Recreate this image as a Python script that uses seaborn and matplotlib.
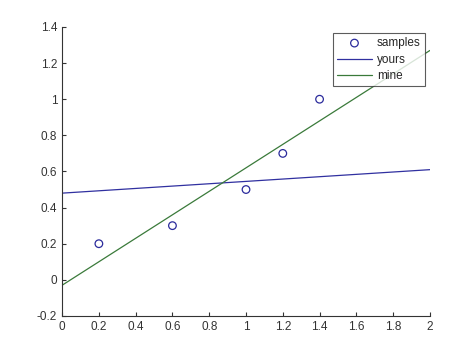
import numpy as np
import pandas as pd
import matplotlib
matplotlib.use('Agg')
import matplotlib.pyplot as plt
import seaborn as sns

sns.set_style("ticks")
plt.rcParams['font.family'] = ['Liberation Sans', 'DejaVu Sans']

# samples
sample_x = [0.2, 0.6, 1.0, 1.2, 1.4]
sample_y = [0.2, 0.3, 0.5, 0.7, 1.0]

# fitted lines (endpoints)
line_x = [0, 2]
yours_y = [0.48, 0.61]
mine_y = [-0.03, 1.27]

samples = pd.DataFrame({'x': sample_x, 'y': sample_y})
lines = pd.DataFrame({'x': line_x * 2,
                      'y': yours_y + mine_y,
                      'fit': ['yours'] * 2 + ['mine'] * 2})

fig = plt.figure(figsize=(4.74, 3.55), dpi=100)
ax = fig.add_axes([0.131, 0.110, 0.776, 0.814])

sns.scatterplot(data=samples, x='x', y='y', ax=ax, marker='o',
                facecolor='none', edgecolor='#2b2b9c', linewidth=0.9,
                s=30, label='samples')
sns.lineplot(data=lines, x='x', y='y', hue='fit', ax=ax,
             palette={'yours': '#3030a0', 'mine': '#3a7a3a'},
             linewidth=0.9)

ax.set_xlim(0, 2)
ax.set_ylim(-0.2, 1.4)
ax.set_xticks(np.arange(0, 2.01, 0.2))
ax.set_yticks(np.arange(-0.2, 1.41, 0.2))
ax.set_xticklabels(['0', '0.2', '0.4', '0.6', '0.8', '1', '1.2', '1.4', '1.6', '1.8', '2'])
ax.set_yticklabels(['-0.2', '0', '0.2', '0.4', '0.6', '0.8', '1', '1.2', '1.4'])
ax.set_xlabel('')
ax.set_ylabel('')
ax.tick_params(direction='in', length=3, width=0.8, labelsize=8.5, colors='#333333')
for side in ['top', 'right']:
    ax.spines[side].set_visible(False)
for side in ['left', 'bottom']:
    ax.spines[side].set_color('#333333')
    ax.spines[side].set_linewidth(0.8)

handles, labels = ax.get_legend_handles_labels()
leg = ax.legend(handles, labels, loc='upper right', bbox_to_anchor=(0.986, 0.979),
                borderaxespad=0, fontsize=8.5, frameon=True, fancybox=False,
                edgecolor='#333333', handlelength=3.0, borderpad=0.35,
                labelspacing=0.38, handletextpad=0.4)
leg.get_frame().set_linewidth(0.8)

fig.savefig('out.png', dpi=100)
